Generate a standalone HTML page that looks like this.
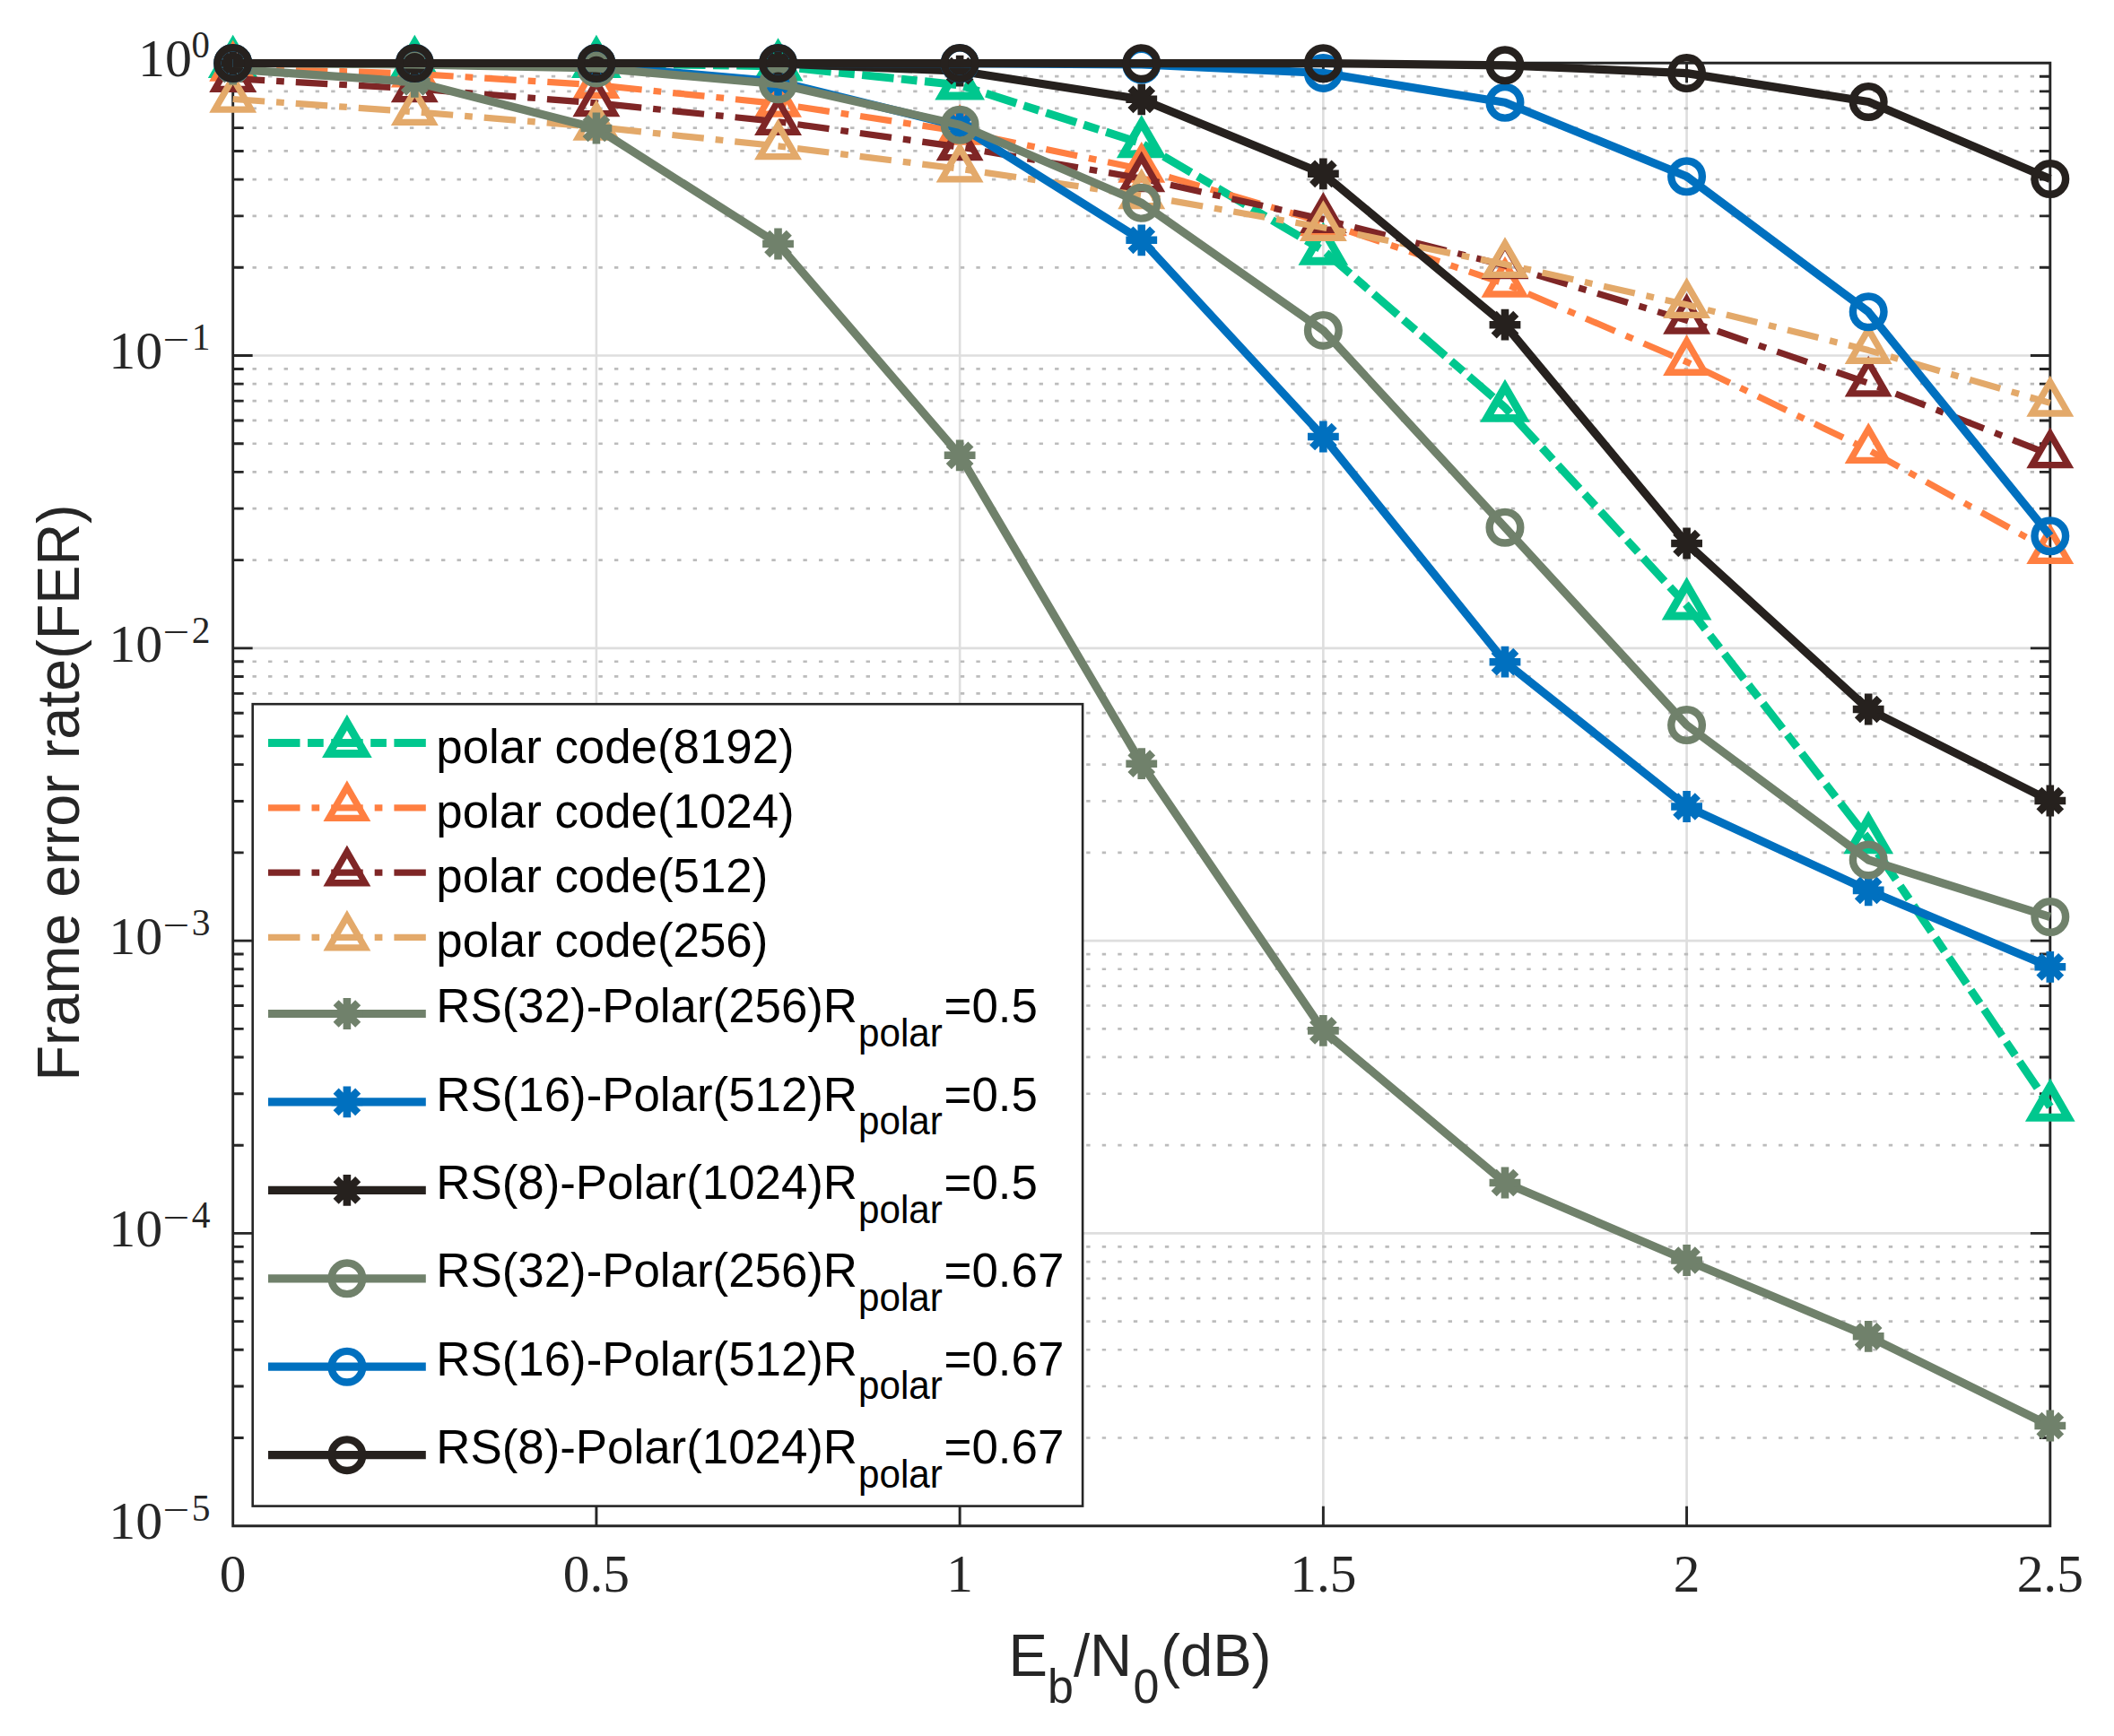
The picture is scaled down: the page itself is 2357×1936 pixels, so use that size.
<!DOCTYPE html>
<html lang="en"><head><meta charset="utf-8"><title>FER plot</title>
<style>
html,body{margin:0;padding:0;background:#fff;}
body{width:2357px;height:1936px;overflow:hidden;}
svg{display:block;}
.cm{font-family:"Liberation Serif","DejaVu Serif",serif;fill:#262626;}
.hv{font-family:"Liberation Sans","DejaVu Sans",sans-serif;}
</style></head><body>
<svg width="2357" height="1936" viewBox="0 0 2357 1936">
<rect x="0" y="0" width="2357" height="1936" fill="#fff"/>
<g fill="none">
<path d="M664.92 70.25V1701.7M1070.14 70.25V1701.7M1475.36 70.25V1701.7M1880.58 70.25V1701.7M259.7 396.54H2285.8M259.7 722.83H2285.8M259.7 1049.12H2285.8M259.7 1375.41H2285.8" stroke="#dedede" stroke-width="2.6"/>
<path d="M259.7 298.32H2285.8M259.7 240.86H2285.8M259.7 200.09H2285.8M259.7 168.47H2285.8M259.7 142.64H2285.8M259.7 120.79H2285.8M259.7 101.87H2285.8M259.7 85.18H2285.8M259.7 624.61H2285.8M259.7 567.15H2285.8M259.7 526.38H2285.8M259.7 494.76H2285.8M259.7 468.93H2285.8M259.7 447.08H2285.8M259.7 428.16H2285.8M259.7 411.47H2285.8M259.7 950.9H2285.8M259.7 893.44H2285.8M259.7 852.67H2285.8M259.7 821.05H2285.8M259.7 795.22H2285.8M259.7 773.37H2285.8M259.7 754.45H2285.8M259.7 737.76H2285.8M259.7 1277.19H2285.8M259.7 1219.73H2285.8M259.7 1178.96H2285.8M259.7 1147.34H2285.8M259.7 1121.51H2285.8M259.7 1099.66H2285.8M259.7 1080.74H2285.8M259.7 1064.05H2285.8M259.7 1603.48H2285.8M259.7 1546.02H2285.8M259.7 1505.25H2285.8M259.7 1473.63H2285.8M259.7 1447.8H2285.8M259.7 1425.95H2285.8M259.7 1407.03H2285.8M259.7 1390.34H2285.8" stroke="#bcbcbc" stroke-width="2.7" stroke-dasharray="4.4 13.141" stroke-dashoffset="-21.8"/>
</g>
<path d="M259.7 70.25H2285.8V1701.7H259.7ZM664.92 1701.7v-20.5M664.92 70.25v20.5M1070.14 1701.7v-20.5M1070.14 70.25v20.5M1475.36 1701.7v-20.5M1475.36 70.25v20.5M1880.58 1701.7v-20.5M1880.58 70.25v20.5M259.7 70.25h20.5M2285.8 70.25h-20.5M259.7 396.54h20.5M2285.8 396.54h-20.5M259.7 722.83h20.5M2285.8 722.83h-20.5M259.7 1049.12h20.5M2285.8 1049.12h-20.5M259.7 1375.41h20.5M2285.8 1375.41h-20.5M259.7 1701.7h20.5M2285.8 1701.7h-20.5M259.7 298.32h10.5M2285.8 298.32h-10.5M259.7 240.86h10.5M2285.8 240.86h-10.5M259.7 200.09h10.5M2285.8 200.09h-10.5M259.7 168.47h10.5M2285.8 168.47h-10.5M259.7 142.64h10.5M2285.8 142.64h-10.5M259.7 120.79h10.5M2285.8 120.79h-10.5M259.7 101.87h10.5M2285.8 101.87h-10.5M259.7 85.18h10.5M2285.8 85.18h-10.5M259.7 624.61h10.5M2285.8 624.61h-10.5M259.7 567.15h10.5M2285.8 567.15h-10.5M259.7 526.38h10.5M2285.8 526.38h-10.5M259.7 494.76h10.5M2285.8 494.76h-10.5M259.7 468.93h10.5M2285.8 468.93h-10.5M259.7 447.08h10.5M2285.8 447.08h-10.5M259.7 428.16h10.5M2285.8 428.16h-10.5M259.7 411.47h10.5M2285.8 411.47h-10.5M259.7 950.9h10.5M2285.8 950.9h-10.5M259.7 893.44h10.5M2285.8 893.44h-10.5M259.7 852.67h10.5M2285.8 852.67h-10.5M259.7 821.05h10.5M2285.8 821.05h-10.5M259.7 795.22h10.5M2285.8 795.22h-10.5M259.7 773.37h10.5M2285.8 773.37h-10.5M259.7 754.45h10.5M2285.8 754.45h-10.5M259.7 737.76h10.5M2285.8 737.76h-10.5M259.7 1277.19h10.5M2285.8 1277.19h-10.5M259.7 1219.73h10.5M2285.8 1219.73h-10.5M259.7 1178.96h10.5M2285.8 1178.96h-10.5M259.7 1147.34h10.5M2285.8 1147.34h-10.5M259.7 1121.51h10.5M2285.8 1121.51h-10.5M259.7 1099.66h10.5M2285.8 1099.66h-10.5M259.7 1080.74h10.5M2285.8 1080.74h-10.5M259.7 1064.05h10.5M2285.8 1064.05h-10.5M259.7 1603.48h10.5M2285.8 1603.48h-10.5M259.7 1546.02h10.5M2285.8 1546.02h-10.5M259.7 1505.25h10.5M2285.8 1505.25h-10.5M259.7 1473.63h10.5M2285.8 1473.63h-10.5M259.7 1447.8h10.5M2285.8 1447.8h-10.5M259.7 1425.95h10.5M2285.8 1425.95h-10.5M259.7 1407.03h10.5M2285.8 1407.03h-10.5M259.7 1390.34h10.5M2285.8 1390.34h-10.5" fill="none" stroke="#262626" stroke-width="2.9" stroke-linecap="square"/>
<defs><clipPath id="cp"><rect x="259.7" y="64.25" width="2026.1" height="1637.45"/></clipPath></defs>
<g>
<polyline points="259.7,70.45 462.31,70.45 664.92,70.5 867.53,73.9 1070.14,94.9 1272.75,159.8 1475.36,279.3 1677.97,454.4 1880.58,675 2083.19,935.8 2285.8,1234.2" fill="none" stroke="#00c78e" stroke-width="9" stroke-linejoin="round" stroke-dasharray="35.5 8.5 17.7 8.5"/>
<polygon points="259.7,47.6 279.84,82.48 239.56,82.48" fill="none" stroke="#00c78e" stroke-width="8.9" stroke-linejoin="miter" stroke-miterlimit="10"/>
<polygon points="462.31,47.6 482.45,82.48 442.17,82.48" fill="none" stroke="#00c78e" stroke-width="8.9" stroke-linejoin="miter" stroke-miterlimit="10"/>
<polygon points="664.92,47.65 685.06,82.53 644.78,82.53" fill="none" stroke="#00c78e" stroke-width="8.9" stroke-linejoin="miter" stroke-miterlimit="10"/>
<polygon points="867.53,51.05 887.67,85.93 847.39,85.93" fill="none" stroke="#00c78e" stroke-width="8.9" stroke-linejoin="miter" stroke-miterlimit="10"/>
<polygon points="1070.14,72.05 1090.28,106.93 1050,106.93" fill="none" stroke="#00c78e" stroke-width="8.9" stroke-linejoin="miter" stroke-miterlimit="10"/>
<polygon points="1272.75,136.95 1292.89,171.83 1252.61,171.83" fill="none" stroke="#00c78e" stroke-width="8.9" stroke-linejoin="miter" stroke-miterlimit="10"/>
<polygon points="1475.36,256.45 1495.5,291.32 1455.22,291.32" fill="none" stroke="#00c78e" stroke-width="8.9" stroke-linejoin="miter" stroke-miterlimit="10"/>
<polygon points="1677.97,431.55 1698.11,466.42 1657.83,466.42" fill="none" stroke="#00c78e" stroke-width="8.9" stroke-linejoin="miter" stroke-miterlimit="10"/>
<polygon points="1880.58,652.15 1900.72,687.02 1860.44,687.02" fill="none" stroke="#00c78e" stroke-width="8.9" stroke-linejoin="miter" stroke-miterlimit="10"/>
<polygon points="2083.19,912.95 2103.33,947.82 2063.05,947.82" fill="none" stroke="#00c78e" stroke-width="8.9" stroke-linejoin="miter" stroke-miterlimit="10"/>
<polygon points="2285.8,1211.35 2305.94,1246.23 2265.66,1246.23" fill="none" stroke="#00c78e" stroke-width="8.9" stroke-linejoin="miter" stroke-miterlimit="10"/>
</g>
<g>
<polyline points="259.7,75.4 462.31,82.3 664.92,94.8 867.53,115.6 1070.14,146.5 1272.75,188.6 1475.36,248 1677.97,316.4 1880.58,403.6 2083.19,501.7 2285.8,613.8" fill="none" stroke="#ff7f41" stroke-width="7.2" stroke-linejoin="round" stroke-dasharray="35.5 13 8.7 13"/>
<polygon points="259.7,52.15 279.84,87.03 239.56,87.03" fill="none" stroke="#ff7f41" stroke-width="7.3" stroke-linejoin="miter" stroke-miterlimit="10"/>
<polygon points="462.31,59.05 482.45,93.92 442.17,93.92" fill="none" stroke="#ff7f41" stroke-width="7.3" stroke-linejoin="miter" stroke-miterlimit="10"/>
<polygon points="664.92,71.55 685.06,106.42 644.78,106.42" fill="none" stroke="#ff7f41" stroke-width="7.3" stroke-linejoin="miter" stroke-miterlimit="10"/>
<polygon points="867.53,92.35 887.67,127.22 847.39,127.22" fill="none" stroke="#ff7f41" stroke-width="7.3" stroke-linejoin="miter" stroke-miterlimit="10"/>
<polygon points="1070.14,123.25 1090.28,158.12 1050,158.12" fill="none" stroke="#ff7f41" stroke-width="7.3" stroke-linejoin="miter" stroke-miterlimit="10"/>
<polygon points="1272.75,165.35 1292.89,200.22 1252.61,200.22" fill="none" stroke="#ff7f41" stroke-width="7.3" stroke-linejoin="miter" stroke-miterlimit="10"/>
<polygon points="1475.36,224.75 1495.5,259.62 1455.22,259.62" fill="none" stroke="#ff7f41" stroke-width="7.3" stroke-linejoin="miter" stroke-miterlimit="10"/>
<polygon points="1677.97,293.15 1698.11,328.02 1657.83,328.02" fill="none" stroke="#ff7f41" stroke-width="7.3" stroke-linejoin="miter" stroke-miterlimit="10"/>
<polygon points="1880.58,380.35 1900.72,415.23 1860.44,415.23" fill="none" stroke="#ff7f41" stroke-width="7.3" stroke-linejoin="miter" stroke-miterlimit="10"/>
<polygon points="2083.19,478.45 2103.33,513.33 2063.05,513.33" fill="none" stroke="#ff7f41" stroke-width="7.3" stroke-linejoin="miter" stroke-miterlimit="10"/>
<polygon points="2285.8,590.55 2305.94,625.42 2265.66,625.42" fill="none" stroke="#ff7f41" stroke-width="7.3" stroke-linejoin="miter" stroke-miterlimit="10"/>
</g>
<g>
<polyline points="259.7,87.7 462.31,98.9 664.92,114.9 867.53,135.7 1070.14,164 1272.75,199 1475.36,244.6 1677.97,296 1880.58,357.4 2083.19,427.2 2285.8,507" fill="none" stroke="#7f2626" stroke-width="7.2" stroke-linejoin="round" stroke-dasharray="35.5 13 8.7 13"/>
<polygon points="259.7,64.45 279.84,99.33 239.56,99.33" fill="none" stroke="#7f2626" stroke-width="7.3" stroke-linejoin="miter" stroke-miterlimit="10"/>
<polygon points="462.31,75.65 482.45,110.53 442.17,110.53" fill="none" stroke="#7f2626" stroke-width="7.3" stroke-linejoin="miter" stroke-miterlimit="10"/>
<polygon points="664.92,91.65 685.06,126.53 644.78,126.53" fill="none" stroke="#7f2626" stroke-width="7.3" stroke-linejoin="miter" stroke-miterlimit="10"/>
<polygon points="867.53,112.45 887.67,147.32 847.39,147.32" fill="none" stroke="#7f2626" stroke-width="7.3" stroke-linejoin="miter" stroke-miterlimit="10"/>
<polygon points="1070.14,140.75 1090.28,175.62 1050,175.62" fill="none" stroke="#7f2626" stroke-width="7.3" stroke-linejoin="miter" stroke-miterlimit="10"/>
<polygon points="1272.75,175.75 1292.89,210.62 1252.61,210.62" fill="none" stroke="#7f2626" stroke-width="7.3" stroke-linejoin="miter" stroke-miterlimit="10"/>
<polygon points="1475.36,221.35 1495.5,256.23 1455.22,256.23" fill="none" stroke="#7f2626" stroke-width="7.3" stroke-linejoin="miter" stroke-miterlimit="10"/>
<polygon points="1677.97,272.75 1698.11,307.62 1657.83,307.62" fill="none" stroke="#7f2626" stroke-width="7.3" stroke-linejoin="miter" stroke-miterlimit="10"/>
<polygon points="1880.58,334.15 1900.72,369.02 1860.44,369.02" fill="none" stroke="#7f2626" stroke-width="7.3" stroke-linejoin="miter" stroke-miterlimit="10"/>
<polygon points="2083.19,403.95 2103.33,438.82 2063.05,438.82" fill="none" stroke="#7f2626" stroke-width="7.3" stroke-linejoin="miter" stroke-miterlimit="10"/>
<polygon points="2285.8,483.75 2305.94,518.62 2265.66,518.62" fill="none" stroke="#7f2626" stroke-width="7.3" stroke-linejoin="miter" stroke-miterlimit="10"/>
</g>
<g>
<polyline points="259.7,110.5 462.31,124.7 664.92,141.6 867.53,162.9 1070.14,188.3 1272.75,218 1475.36,253.7 1677.97,294.7 1880.58,339.8 2083.19,390.6 2285.8,449.4" fill="none" stroke="#e3a96a" stroke-width="7.2" stroke-linejoin="round" stroke-dasharray="35.5 13 8.7 13"/>
<polygon points="259.7,87.25 279.84,122.12 239.56,122.12" fill="none" stroke="#e3a96a" stroke-width="7.3" stroke-linejoin="miter" stroke-miterlimit="10"/>
<polygon points="462.31,101.45 482.45,136.32 442.17,136.32" fill="none" stroke="#e3a96a" stroke-width="7.3" stroke-linejoin="miter" stroke-miterlimit="10"/>
<polygon points="664.92,118.35 685.06,153.22 644.78,153.22" fill="none" stroke="#e3a96a" stroke-width="7.3" stroke-linejoin="miter" stroke-miterlimit="10"/>
<polygon points="867.53,139.65 887.67,174.53 847.39,174.53" fill="none" stroke="#e3a96a" stroke-width="7.3" stroke-linejoin="miter" stroke-miterlimit="10"/>
<polygon points="1070.14,165.05 1090.28,199.93 1050,199.93" fill="none" stroke="#e3a96a" stroke-width="7.3" stroke-linejoin="miter" stroke-miterlimit="10"/>
<polygon points="1272.75,194.75 1292.89,229.62 1252.61,229.62" fill="none" stroke="#e3a96a" stroke-width="7.3" stroke-linejoin="miter" stroke-miterlimit="10"/>
<polygon points="1475.36,230.45 1495.5,265.32 1455.22,265.32" fill="none" stroke="#e3a96a" stroke-width="7.3" stroke-linejoin="miter" stroke-miterlimit="10"/>
<polygon points="1677.97,271.45 1698.11,306.32 1657.83,306.32" fill="none" stroke="#e3a96a" stroke-width="7.3" stroke-linejoin="miter" stroke-miterlimit="10"/>
<polygon points="1880.58,316.55 1900.72,351.43 1860.44,351.43" fill="none" stroke="#e3a96a" stroke-width="7.3" stroke-linejoin="miter" stroke-miterlimit="10"/>
<polygon points="2083.19,367.35 2103.33,402.23 2063.05,402.23" fill="none" stroke="#e3a96a" stroke-width="7.3" stroke-linejoin="miter" stroke-miterlimit="10"/>
<polygon points="2285.8,426.15 2305.94,461.02 2265.66,461.02" fill="none" stroke="#e3a96a" stroke-width="7.3" stroke-linejoin="miter" stroke-miterlimit="10"/>
</g>
<g>
<polyline points="259.7,77.2 462.31,91.3 664.92,143 867.53,272 1070.14,507.8 1272.75,851.7 1475.36,1149.4 1677.97,1319 1880.58,1405.5 2083.19,1490.3 2285.8,1590" fill="none" stroke="#70816b" stroke-width="9.2" stroke-linejoin="round"/>
<path d="M259.7 59.8V94.6 M242.3 77.2H277.1 M247.4 64.9L272 89.5 M247.4 89.5L272 64.9" fill="none" stroke="#70816b" stroke-width="8.6"/>
<path d="M462.31 73.9V108.7 M444.91 91.3H479.71 M450.01 79L474.61 103.6 M450.01 103.6L474.61 79" fill="none" stroke="#70816b" stroke-width="8.6"/>
<path d="M664.92 125.6V160.4 M647.52 143H682.32 M652.62 130.7L677.22 155.3 M652.62 155.3L677.22 130.7" fill="none" stroke="#70816b" stroke-width="8.6"/>
<path d="M867.53 254.6V289.4 M850.13 272H884.93 M855.23 259.7L879.83 284.3 M855.23 284.3L879.83 259.7" fill="none" stroke="#70816b" stroke-width="8.6"/>
<path d="M1070.14 490.4V525.2 M1052.74 507.8H1087.54 M1057.84 495.5L1082.44 520.1 M1057.84 520.1L1082.44 495.5" fill="none" stroke="#70816b" stroke-width="8.6"/>
<path d="M1272.75 834.3V869.1 M1255.35 851.7H1290.15 M1260.45 839.4L1285.05 864 M1260.45 864L1285.05 839.4" fill="none" stroke="#70816b" stroke-width="8.6"/>
<path d="M1475.36 1132V1166.8 M1457.96 1149.4H1492.76 M1463.06 1137.1L1487.66 1161.7 M1463.06 1161.7L1487.66 1137.1" fill="none" stroke="#70816b" stroke-width="8.6"/>
<path d="M1677.97 1301.6V1336.4 M1660.57 1319H1695.37 M1665.67 1306.7L1690.27 1331.3 M1665.67 1331.3L1690.27 1306.7" fill="none" stroke="#70816b" stroke-width="8.6"/>
<path d="M1880.58 1388.1V1422.9 M1863.18 1405.5H1897.98 M1868.28 1393.2L1892.88 1417.8 M1868.28 1417.8L1892.88 1393.2" fill="none" stroke="#70816b" stroke-width="8.6"/>
<path d="M2083.19 1472.9V1507.7 M2065.79 1490.3H2100.59 M2070.89 1478L2095.49 1502.6 M2070.89 1502.6L2095.49 1478" fill="none" stroke="#70816b" stroke-width="8.6"/>
<path d="M2285.8 1572.6V1607.4 M2268.4 1590H2303.2 M2273.5 1577.7L2298.1 1602.3 M2273.5 1602.3L2298.1 1577.7" fill="none" stroke="#70816b" stroke-width="8.6"/>
</g>
<g>
<polyline points="259.7,70.5 462.31,70.5 664.92,73.5 867.53,91 1070.14,140.7 1272.75,267.8 1475.36,487 1677.97,738.2 1880.58,899.5 2083.19,992.9 2285.8,1078.3" fill="none" stroke="#0070bf" stroke-width="9.2" stroke-linejoin="round"/>
<path d="M259.7 53.1V87.9 M242.3 70.5H277.1 M247.4 58.2L272 82.8 M247.4 82.8L272 58.2" fill="none" stroke="#0070bf" stroke-width="8.6"/>
<path d="M462.31 53.1V87.9 M444.91 70.5H479.71 M450.01 58.2L474.61 82.8 M450.01 82.8L474.61 58.2" fill="none" stroke="#0070bf" stroke-width="8.6"/>
<path d="M664.92 56.1V90.9 M647.52 73.5H682.32 M652.62 61.2L677.22 85.8 M652.62 85.8L677.22 61.2" fill="none" stroke="#0070bf" stroke-width="8.6"/>
<path d="M867.53 73.6V108.4 M850.13 91H884.93 M855.23 78.7L879.83 103.3 M855.23 103.3L879.83 78.7" fill="none" stroke="#0070bf" stroke-width="8.6"/>
<path d="M1070.14 123.3V158.1 M1052.74 140.7H1087.54 M1057.84 128.4L1082.44 153 M1057.84 153L1082.44 128.4" fill="none" stroke="#0070bf" stroke-width="8.6"/>
<path d="M1272.75 250.4V285.2 M1255.35 267.8H1290.15 M1260.45 255.5L1285.05 280.1 M1260.45 280.1L1285.05 255.5" fill="none" stroke="#0070bf" stroke-width="8.6"/>
<path d="M1475.36 469.6V504.4 M1457.96 487H1492.76 M1463.06 474.7L1487.66 499.3 M1463.06 499.3L1487.66 474.7" fill="none" stroke="#0070bf" stroke-width="8.6"/>
<path d="M1677.97 720.8V755.6 M1660.57 738.2H1695.37 M1665.67 725.9L1690.27 750.5 M1665.67 750.5L1690.27 725.9" fill="none" stroke="#0070bf" stroke-width="8.6"/>
<path d="M1880.58 882.1V916.9 M1863.18 899.5H1897.98 M1868.28 887.2L1892.88 911.8 M1868.28 911.8L1892.88 887.2" fill="none" stroke="#0070bf" stroke-width="8.6"/>
<path d="M2083.19 975.5V1010.3 M2065.79 992.9H2100.59 M2070.89 980.6L2095.49 1005.2 M2070.89 1005.2L2095.49 980.6" fill="none" stroke="#0070bf" stroke-width="8.6"/>
<path d="M2285.8 1060.9V1095.7 M2268.4 1078.3H2303.2 M2273.5 1066L2298.1 1090.6 M2273.5 1090.6L2298.1 1066" fill="none" stroke="#0070bf" stroke-width="8.6"/>
</g>
<g>
<polyline points="259.7,70.5 462.31,70.5 664.92,70.5 867.53,71 1070.14,79.2 1272.75,110.8 1475.36,193.8 1677.97,362.2 1880.58,606 2083.19,791 2285.8,893" fill="none" stroke="#26211e" stroke-width="9.2" stroke-linejoin="round"/>
<path d="M259.7 53.1V87.9 M242.3 70.5H277.1 M247.4 58.2L272 82.8 M247.4 82.8L272 58.2" fill="none" stroke="#26211e" stroke-width="8.6"/>
<path d="M462.31 53.1V87.9 M444.91 70.5H479.71 M450.01 58.2L474.61 82.8 M450.01 82.8L474.61 58.2" fill="none" stroke="#26211e" stroke-width="8.6"/>
<path d="M664.92 53.1V87.9 M647.52 70.5H682.32 M652.62 58.2L677.22 82.8 M652.62 82.8L677.22 58.2" fill="none" stroke="#26211e" stroke-width="8.6"/>
<path d="M867.53 53.6V88.4 M850.13 71H884.93 M855.23 58.7L879.83 83.3 M855.23 83.3L879.83 58.7" fill="none" stroke="#26211e" stroke-width="8.6"/>
<path d="M1070.14 61.8V96.6 M1052.74 79.2H1087.54 M1057.84 66.9L1082.44 91.5 M1057.84 91.5L1082.44 66.9" fill="none" stroke="#26211e" stroke-width="8.6"/>
<path d="M1272.75 93.4V128.2 M1255.35 110.8H1290.15 M1260.45 98.5L1285.05 123.1 M1260.45 123.1L1285.05 98.5" fill="none" stroke="#26211e" stroke-width="8.6"/>
<path d="M1475.36 176.4V211.2 M1457.96 193.8H1492.76 M1463.06 181.5L1487.66 206.1 M1463.06 206.1L1487.66 181.5" fill="none" stroke="#26211e" stroke-width="8.6"/>
<path d="M1677.97 344.8V379.6 M1660.57 362.2H1695.37 M1665.67 349.9L1690.27 374.5 M1665.67 374.5L1690.27 349.9" fill="none" stroke="#26211e" stroke-width="8.6"/>
<path d="M1880.58 588.6V623.4 M1863.18 606H1897.98 M1868.28 593.7L1892.88 618.3 M1868.28 618.3L1892.88 593.7" fill="none" stroke="#26211e" stroke-width="8.6"/>
<path d="M2083.19 773.6V808.4 M2065.79 791H2100.59 M2070.89 778.7L2095.49 803.3 M2070.89 803.3L2095.49 778.7" fill="none" stroke="#26211e" stroke-width="8.6"/>
<path d="M2285.8 875.6V910.4 M2268.4 893H2303.2 M2273.5 880.7L2298.1 905.3 M2273.5 905.3L2298.1 880.7" fill="none" stroke="#26211e" stroke-width="8.6"/>
</g>
<g>
<polyline points="259.7,70.5 462.31,72 664.92,75.9 867.53,93.7 1070.14,139.3 1272.75,226.3 1475.36,368.4 1677.97,588.2 1880.58,808.6 2083.19,959 2285.8,1022.5" fill="none" stroke="#70816b" stroke-width="9.2" stroke-linejoin="round"/>
<circle cx="259.7" cy="70.5" r="17.3" fill="none" stroke="#70816b" stroke-width="8.4"/>
<circle cx="462.31" cy="72" r="17.3" fill="none" stroke="#70816b" stroke-width="8.4"/>
<circle cx="664.92" cy="75.9" r="17.3" fill="none" stroke="#70816b" stroke-width="8.4"/>
<circle cx="867.53" cy="93.7" r="17.3" fill="none" stroke="#70816b" stroke-width="8.4"/>
<circle cx="1070.14" cy="139.3" r="17.3" fill="none" stroke="#70816b" stroke-width="8.4"/>
<circle cx="1272.75" cy="226.3" r="17.3" fill="none" stroke="#70816b" stroke-width="8.4"/>
<circle cx="1475.36" cy="368.4" r="17.3" fill="none" stroke="#70816b" stroke-width="8.4"/>
<circle cx="1677.97" cy="588.2" r="17.3" fill="none" stroke="#70816b" stroke-width="8.4"/>
<circle cx="1880.58" cy="808.6" r="17.3" fill="none" stroke="#70816b" stroke-width="8.4"/>
<circle cx="2083.19" cy="959" r="17.3" fill="none" stroke="#70816b" stroke-width="8.4"/>
<circle cx="2285.8" cy="1022.5" r="17.3" fill="none" stroke="#70816b" stroke-width="8.4"/>
</g>
<g>
<polyline points="259.7,70.5 462.31,70.5 664.92,70.5 867.53,70.5 1070.14,70.7 1272.75,72 1475.36,81.4 1677.97,114.3 1880.58,196.8 2083.19,347.8 2285.8,597.7" fill="none" stroke="#0070bf" stroke-width="9.2" stroke-linejoin="round"/>
<circle cx="259.7" cy="70.5" r="17.3" fill="none" stroke="#0070bf" stroke-width="8.4"/>
<circle cx="462.31" cy="70.5" r="17.3" fill="none" stroke="#0070bf" stroke-width="8.4"/>
<circle cx="664.92" cy="70.5" r="17.3" fill="none" stroke="#0070bf" stroke-width="8.4"/>
<circle cx="867.53" cy="70.5" r="17.3" fill="none" stroke="#0070bf" stroke-width="8.4"/>
<circle cx="1070.14" cy="70.7" r="17.3" fill="none" stroke="#0070bf" stroke-width="8.4"/>
<circle cx="1272.75" cy="72" r="17.3" fill="none" stroke="#0070bf" stroke-width="8.4"/>
<circle cx="1475.36" cy="81.4" r="17.3" fill="none" stroke="#0070bf" stroke-width="8.4"/>
<circle cx="1677.97" cy="114.3" r="17.3" fill="none" stroke="#0070bf" stroke-width="8.4"/>
<circle cx="1880.58" cy="196.8" r="17.3" fill="none" stroke="#0070bf" stroke-width="8.4"/>
<circle cx="2083.19" cy="347.8" r="17.3" fill="none" stroke="#0070bf" stroke-width="8.4"/>
<circle cx="2285.8" cy="597.7" r="17.3" fill="none" stroke="#0070bf" stroke-width="8.4"/>
</g>
<g>
<polyline points="259.7,70.5 462.31,70.5 664.92,70.5 867.53,70.5 1070.14,70.6 1272.75,70.7 1475.36,70.7 1677.97,72.8 1880.58,81.6 2083.19,113.5 2285.8,199.5" fill="none" stroke="#26211e" stroke-width="9.2" stroke-linejoin="round"/>
<circle cx="259.7" cy="70.5" r="17.3" fill="none" stroke="#26211e" stroke-width="8.4"/>
<circle cx="462.31" cy="70.5" r="17.3" fill="none" stroke="#26211e" stroke-width="8.4"/>
<circle cx="664.92" cy="70.5" r="17.3" fill="none" stroke="#26211e" stroke-width="8.4"/>
<circle cx="867.53" cy="70.5" r="17.3" fill="none" stroke="#26211e" stroke-width="8.4"/>
<circle cx="1070.14" cy="70.6" r="17.3" fill="none" stroke="#26211e" stroke-width="8.4"/>
<circle cx="1272.75" cy="70.7" r="17.3" fill="none" stroke="#26211e" stroke-width="8.4"/>
<circle cx="1475.36" cy="70.7" r="17.3" fill="none" stroke="#26211e" stroke-width="8.4"/>
<circle cx="1677.97" cy="72.8" r="17.3" fill="none" stroke="#26211e" stroke-width="8.4"/>
<circle cx="1880.58" cy="81.6" r="17.3" fill="none" stroke="#26211e" stroke-width="8.4"/>
<circle cx="2083.19" cy="113.5" r="17.3" fill="none" stroke="#26211e" stroke-width="8.4"/>
<circle cx="2285.8" cy="199.5" r="17.3" fill="none" stroke="#26211e" stroke-width="8.4"/>
</g>
<rect x="281.7" y="785.2" width="925.4" height="894.4" fill="#fff" stroke="#262626" stroke-width="2.6"/>
<path d="M299 828.5H474.8" fill="none" stroke="#00c78e" stroke-width="9" stroke-dasharray="35.5 8.5 17.7 8.5"/>
<polygon points="386.9,805.65 407.04,840.52 366.76,840.52" fill="none" stroke="#00c78e" stroke-width="8.9" stroke-linejoin="miter" stroke-miterlimit="10"/>
<text class="hv" transform="translate(486.3 851.2) scale(1 1.03)" font-size="52.85" fill="#000">polar code(8192)</text>
<path d="M299 900.8H474.8" fill="none" stroke="#ff7f41" stroke-width="7.2" stroke-dasharray="35.5 13 8.7 13"/>
<polygon points="386.9,877.55 407.04,912.42 366.76,912.42" fill="none" stroke="#ff7f41" stroke-width="7.3" stroke-linejoin="miter" stroke-miterlimit="10"/>
<text class="hv" transform="translate(486.3 923.2) scale(1 1.03)" font-size="52.85" fill="#000">polar code(1024)</text>
<path d="M299 973.1H474.8" fill="none" stroke="#7f2626" stroke-width="7.2" stroke-dasharray="35.5 13 8.7 13"/>
<polygon points="386.9,949.85 407.04,984.73 366.76,984.73" fill="none" stroke="#7f2626" stroke-width="7.3" stroke-linejoin="miter" stroke-miterlimit="10"/>
<text class="hv" transform="translate(486.3 995.4) scale(1 1.03)" font-size="52.85" fill="#000">polar code(512)</text>
<path d="M299 1045.35H474.8" fill="none" stroke="#e3a96a" stroke-width="7.2" stroke-dasharray="35.5 13 8.7 13"/>
<polygon points="386.9,1022.1 407.04,1056.97 366.76,1056.97" fill="none" stroke="#e3a96a" stroke-width="7.3" stroke-linejoin="miter" stroke-miterlimit="10"/>
<text class="hv" transform="translate(486.3 1067) scale(1 1.03)" font-size="52.85" fill="#000">polar code(256)</text>
<path d="M299 1130.5H474.8" fill="none" stroke="#70816b" stroke-width="9.2"/>
<path d="M386.9 1113.1V1147.9 M369.5 1130.5H404.3 M374.6 1118.2L399.2 1142.8 M374.6 1142.8L399.2 1118.2" fill="none" stroke="#70816b" stroke-width="8.6"/>
<text class="hv" transform="translate(486.3 1140.4) scale(1 1.03)" font-size="52.85" fill="#000">RS(32)-Polar(256)R</text>
<text class="hv" transform="translate(957 1166.7) scale(1 1.03)" font-size="42.2" fill="#000">polar</text>
<text class="hv" transform="translate(1052.6 1140.4) scale(1 1.03)" font-size="52.85" fill="#000">=0.5</text>
<path d="M299 1228.95H474.8" fill="none" stroke="#0070bf" stroke-width="9.2"/>
<path d="M386.9 1211.55V1246.35 M369.5 1228.95H404.3 M374.6 1216.65L399.2 1241.25 M374.6 1241.25L399.2 1216.65" fill="none" stroke="#0070bf" stroke-width="8.6"/>
<text class="hv" transform="translate(486.3 1238.7) scale(1 1.03)" font-size="52.85" fill="#000">RS(16)-Polar(512)R</text>
<text class="hv" transform="translate(957 1265) scale(1 1.03)" font-size="42.2" fill="#000">polar</text>
<text class="hv" transform="translate(1052.6 1238.7) scale(1 1.03)" font-size="52.85" fill="#000">=0.5</text>
<path d="M299 1327.4H474.8" fill="none" stroke="#26211e" stroke-width="9.2"/>
<path d="M386.9 1310V1344.8 M369.5 1327.4H404.3 M374.6 1315.1L399.2 1339.7 M374.6 1339.7L399.2 1315.1" fill="none" stroke="#26211e" stroke-width="8.6"/>
<text class="hv" transform="translate(486.3 1337.3) scale(1 1.03)" font-size="52.85" fill="#000">RS(8)-Polar(1024)R</text>
<text class="hv" transform="translate(957 1363.6) scale(1 1.03)" font-size="42.2" fill="#000">polar</text>
<text class="hv" transform="translate(1052.6 1337.3) scale(1 1.03)" font-size="52.85" fill="#000">=0.5</text>
<path d="M299 1425.8H474.8" fill="none" stroke="#70816b" stroke-width="9.2"/>
<circle cx="386.9" cy="1425.8" r="17.3" fill="none" stroke="#70816b" stroke-width="8.4"/>
<text class="hv" transform="translate(486.3 1435.4) scale(1 1.03)" font-size="52.85" fill="#000">RS(32)-Polar(256)R</text>
<text class="hv" transform="translate(957 1461.7) scale(1 1.03)" font-size="42.2" fill="#000">polar</text>
<text class="hv" transform="translate(1052.6 1435.4) scale(1 1.03)" font-size="52.85" fill="#000">=0.67</text>
<path d="M299 1524.2H474.8" fill="none" stroke="#0070bf" stroke-width="9.2"/>
<circle cx="386.9" cy="1524.2" r="17.3" fill="none" stroke="#0070bf" stroke-width="8.4"/>
<text class="hv" transform="translate(486.3 1533.8) scale(1 1.03)" font-size="52.85" fill="#000">RS(16)-Polar(512)R</text>
<text class="hv" transform="translate(957 1560.1) scale(1 1.03)" font-size="42.2" fill="#000">polar</text>
<text class="hv" transform="translate(1052.6 1533.8) scale(1 1.03)" font-size="52.85" fill="#000">=0.67</text>
<path d="M299 1622.65H474.8" fill="none" stroke="#26211e" stroke-width="9.2"/>
<circle cx="386.9" cy="1622.65" r="17.3" fill="none" stroke="#26211e" stroke-width="8.4"/>
<text class="hv" transform="translate(486.3 1632.3) scale(1 1.03)" font-size="52.85" fill="#000">RS(8)-Polar(1024)R</text>
<text class="hv" transform="translate(957 1658.6) scale(1 1.03)" font-size="42.2" fill="#000">polar</text>
<text class="hv" transform="translate(1052.6 1632.3) scale(1 1.03)" font-size="52.85" fill="#000">=0.67</text>
<text class="cm" x="259.7" y="1774.6" font-size="59.4" text-anchor="middle">0</text>
<text class="cm" x="664.92" y="1774.6" font-size="59.4" text-anchor="middle">0.5</text>
<text class="cm" x="1070.14" y="1774.6" font-size="59.4" text-anchor="middle">1</text>
<text class="cm" x="1475.36" y="1774.6" font-size="59.4" text-anchor="middle">1.5</text>
<text class="cm" x="1880.58" y="1774.6" font-size="59.4" text-anchor="middle">2</text>
<text class="cm" x="2285.8" y="1774.6" font-size="59.4" text-anchor="middle">2.5</text>
<text class="cm" x="153.9" y="84.95" font-size="59.4" textLength="60" lengthAdjust="spacingAndGlyphs">10</text>
<text class="cm" x="213.4" y="64.15" font-size="41.4" textLength="20.4" lengthAdjust="spacingAndGlyphs">0</text>
<text class="cm" x="121.3" y="411.24" font-size="59.4" textLength="60" lengthAdjust="spacingAndGlyphs">10</text>
<text class="cm" x="181.4" y="393.04" font-size="41.5" textLength="29.8" lengthAdjust="spacingAndGlyphs">−</text>
<text class="cm" x="213.8" y="390.44" font-size="41.5">1</text>
<text class="cm" x="121.3" y="737.53" font-size="59.4" textLength="60" lengthAdjust="spacingAndGlyphs">10</text>
<text class="cm" x="181.4" y="719.33" font-size="41.5" textLength="29.8" lengthAdjust="spacingAndGlyphs">−</text>
<text class="cm" x="213.8" y="716.73" font-size="41.5">2</text>
<text class="cm" x="121.3" y="1063.82" font-size="59.4" textLength="60" lengthAdjust="spacingAndGlyphs">10</text>
<text class="cm" x="181.4" y="1045.62" font-size="41.5" textLength="29.8" lengthAdjust="spacingAndGlyphs">−</text>
<text class="cm" x="213.8" y="1043.02" font-size="41.5">3</text>
<text class="cm" x="121.3" y="1390.11" font-size="59.4" textLength="60" lengthAdjust="spacingAndGlyphs">10</text>
<text class="cm" x="181.4" y="1371.91" font-size="41.5" textLength="29.8" lengthAdjust="spacingAndGlyphs">−</text>
<text class="cm" x="213.8" y="1369.31" font-size="41.5">4</text>
<text class="cm" x="121.3" y="1716.4" font-size="59.4" textLength="60" lengthAdjust="spacingAndGlyphs">10</text>
<text class="cm" x="181.4" y="1698.2" font-size="41.5" textLength="29.8" lengthAdjust="spacingAndGlyphs">−</text>
<text class="cm" x="213.8" y="1695.6" font-size="41.5">5</text>
<text class="hv" transform="translate(1124.6 1868.6) scale(1 1.03)" font-size="65.2" fill="#262626">E</text>
<text class="hv" transform="translate(1168 1898.8) scale(1 1.03)" font-size="52" fill="#262626">b</text>
<text class="hv" transform="translate(1197 1868.6) scale(1 1.03)" font-size="65.2" fill="#262626">/N</text>
<text class="hv" transform="translate(1263.5 1898.8) scale(1 1.03)" font-size="52" fill="#262626">0</text>
<text class="hv" transform="translate(1294.2 1868.6) scale(1 1.03)" font-size="65.2" fill="#262626">(dB)</text>
<text class="hv" transform="translate(87.9 1205.6) rotate(-90) scale(1 1.03)" font-size="64.7" fill="#262626">Frame error rate(FER)</text>
</svg>
</body></html>
